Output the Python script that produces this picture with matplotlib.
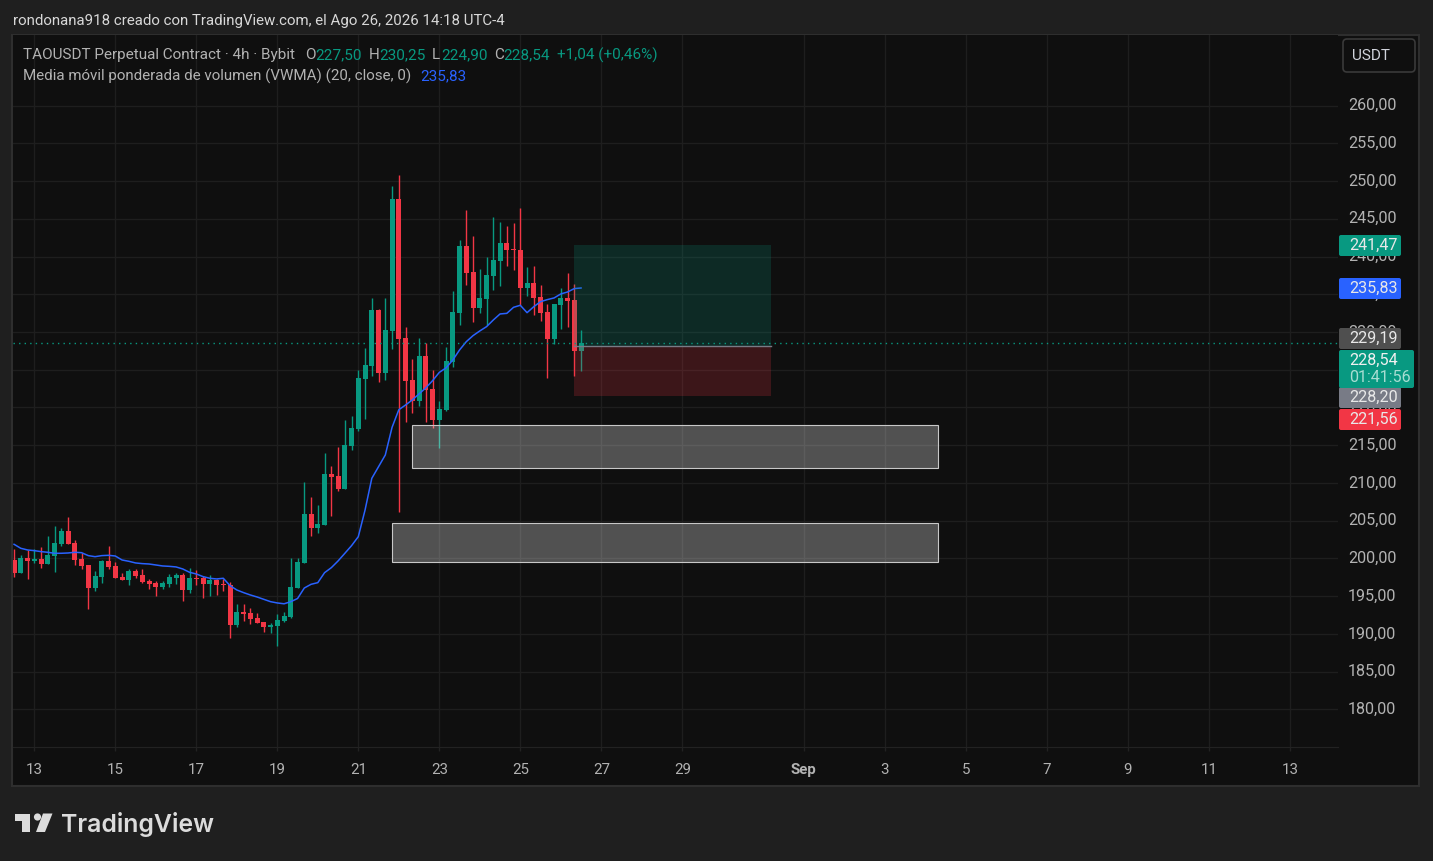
import matplotlib
matplotlib.use('Agg')
import numpy as np
from matplotlib import pyplot as plt
from matplotlib.patches import Rectangle, FancyBboxPatch, Polygon, Circle

# 4h candles
opens = [199.80, 198.08, 200.07, 199.67, 199.94, 199.27, 200.33, 201.92, 203.64, 202.05,
         199.94, 199.14, 196.09, 197.55, 199.67, 199.01, 197.55, 197.15, 198.35, 197.82,
         197.02, 196.76, 196.23, 196.62, 197.42, 197.82, 195.83, 197.42, 197.42, 196.62,
         197.15, 196.62, 196.49, 191.19, 192.92, 192.78, 192.12, 191.59, 190.93, 191.06,
         191.72, 192.25, 196.09, 199.40, 205.89, 204.04, 204.44, 211.19, 210.93, 209.20,
         214.90, 217.15, 223.77, 225.50, 232.92, 224.57, 230.14, 247.62, 229.21, 223.65,
         220.86, 226.82, 222.45, 218.35, 219.67, 226.03, 232.52, 241.39, 237.95, 233.18,
         234.37, 237.42, 239.41, 241.79, 240.99, 240.86, 235.83, 236.49, 234.64, 232.65,
         229.08, 233.58, 234.51, 234.24, 227.50]
highs = [201.26, 200.47, 201.13, 201.26, 201.52, 202.98, 204.31, 204.04, 205.50, 202.45,
         200.69, 199.14, 198.35, 199.80, 201.66, 199.54, 198.08, 198.61, 198.61, 198.61,
         197.29, 197.02, 197.02, 197.95, 198.08, 198.08, 198.74, 198.48, 197.68, 197.82,
         197.29, 197.29, 196.89, 193.97, 193.97, 193.45, 192.78, 191.59, 191.46, 192.65,
         192.92, 200.07, 200.07, 210.13, 208.15, 207.09, 213.97, 212.25, 214.77, 218.34,
         218.87, 224.97, 227.88, 234.51, 233.05, 234.51, 249.34, 250.80, 230.66, 226.43,
         229.21, 228.55, 224.97, 220.86, 228.02, 235.43, 242.19, 246.16, 242.72, 238.35,
         239.94, 245.23, 244.57, 244.04, 244.44, 246.43, 238.61, 238.75, 236.23, 233.71,
         233.71, 235.83, 237.82, 236.36, 230.25]
lows = [197.55, 198.08, 197.29, 199.41, 198.74, 199.27, 198.21, 201.66, 201.92, 199.14,
        198.61, 193.31, 195.70, 196.76, 198.61, 197.42, 197.15, 196.49, 197.42, 196.76,
        195.96, 195.03, 195.96, 196.23, 196.62, 194.37, 195.43, 196.49, 194.77, 195.03,
        195.17, 195.70, 189.47, 190.93, 191.72, 191.33, 191.46, 190.27, 190.13, 188.41,
        191.59, 192.12, 196.09, 199.40, 202.98, 203.38, 204.44, 205.63, 208.94, 209.20,
        214.37, 216.89, 218.48, 224.17, 223.38, 223.65, 227.75, 206.16, 218.08, 219.28,
        220.20, 218.08, 217.29, 214.68, 219.54, 225.37, 230.93, 236.23, 231.33, 232.52,
        230.93, 235.57, 236.10, 238.75, 238.22, 233.58, 234.77, 232.25, 231.46, 223.91,
        228.41, 230.40, 230.67, 224.17, 224.90]
closes = [198.08, 200.07, 199.67, 199.94, 199.27, 200.47, 202.05, 203.64, 201.92, 199.80,
          199.01, 196.09, 197.68, 199.67, 198.88, 197.42, 197.15, 198.35, 197.68, 196.89,
          196.62, 196.23, 196.76, 197.55, 197.82, 195.83, 197.42, 197.29, 196.62, 197.15,
          196.49, 196.49, 191.19, 192.92, 192.65, 191.99, 191.46, 190.93, 191.19, 191.86,
          192.39, 196.22, 199.54, 205.89, 204.04, 204.57, 211.19, 210.79, 209.20, 215.03,
          217.28, 223.91, 225.63, 232.92, 224.57, 230.27, 247.62, 229.08, 223.51, 220.86,
          226.82, 222.32, 218.35, 219.80, 226.16, 232.65, 241.39, 237.82, 233.18, 234.51,
          237.55, 239.54, 241.79, 240.86, 240.86, 235.83, 236.49, 234.51, 232.52, 229.08,
          233.71, 234.51, 234.11, 227.49, 228.54]
vwma = [201.88, 201.35, 201.13, 201.04, 200.91, 200.82, 200.69, 200.69, 200.73, 200.82,
        200.77, 200.38, 200.24, 200.38, 200.42, 200.33, 199.80, 199.63, 199.41, 199.32,
        199.27, 199.14, 199.01, 198.96, 198.88, 198.61, 198.17, 197.95, 197.60, 197.38,
        197.29, 197.38, 196.40, 195.83, 195.48, 195.17, 194.90, 194.59, 194.28, 194.11,
        194.00, 194.28, 194.70, 196.09, 196.58, 196.80, 198.12, 198.78, 199.67, 200.68,
        201.70, 202.89, 206.42, 210.62, 212.16, 213.71, 217.37, 219.70, 220.33, 221.00,
        221.80, 222.60, 223.55, 224.65, 225.25, 226.29, 227.62, 228.72, 229.52, 230.14,
        230.71, 231.59, 232.39, 232.47, 233.27, 233.54, 232.56, 233.36, 234.02, 234.29,
        234.51, 235.04, 235.30, 235.75, 235.83]

price_ticks = list(range(180, 265, 5))
date_pos = [3, 15, 27, 39, 51, 63, 75, 87, 99, 117, 129, 141, 153, 165, 177, 189]
date_labels = ['13', '15', '17', '19', '21', '23', '25', '27', '29', 'Sep', '3', '5', '7', '9', '11', '13']

# long position tool and the two grey zones (start, end, top, bottom)
target_zone = [83, 112.15, 241.47, 228.20]
stop_zone = [83, 112.15, 228.20, 221.56]
grey_zones = [[59, 136.95, 217.62, 211.99], [56, 136.95, 204.64, 199.54]]
last_price = 228.54

side_labels = [('241,47', 245.5, '#089981'), ('235,83', 288.5, '#2962ff'),
               ('229,19', 338.5, '#4f4f4f'), ('228,20', 397.5, '#787b86'),
               ('221,56', 419.5, '#f23645')]

GREEN = '#089981'
RED = '#f23645'
TEXT = '#b2b2b2'
FONT = 'Roboto'
W, H = 1433, 861

plt.rcParams['font.family'] = FONT
fig = plt.figure(figsize=(W / 100, H / 100), dpi=100, facecolor='#1f1f1f')


def px_axes(zorder):
    a = fig.add_axes([0, 0, 1, 1], zorder=zorder)
    a.set_xlim(0, W)
    a.set_ylim(H, 0)
    a.axis('off')
    a.patch.set_alpha(0)
    return a


bg = px_axes(0)
bg.add_patch(Rectangle((12.5, 34.5), 1407, 751, fc='#0f0f0f', ec='#2e2e2e', lw=1.5))

# price chart
ax = fig.add_axes([13 / W, 1 - 747 / H, (1338 - 13) / W, (747 - 35) / H], zorder=1)
ax.set_facecolor('#0f0f0f')
ax.set_xlim(-0.156, 196.14)
ax.set_ylim(175.03, 269.34)
for s in ax.spines.values():
    s.set_visible(False)
ax.spines['bottom'].set_visible(True)
ax.spines['bottom'].set_color('#222222')

ax.set_yticks(price_ticks)
ax.set_yticklabels([f'{v},00' for v in price_ticks])
ax.yaxis.tick_right()
ax.tick_params(axis='y', length=0, pad=7.2, labelsize=11.6, labelcolor=TEXT)
for lab in ax.get_yticklabels():
    lab.set_verticalalignment('center')
ax.set_xticks(date_pos)
ax.set_xticklabels(date_labels)
ax.tick_params(axis='x', length=3, width=1, color='#222222', pad=8.6, labelsize=10.8, labelcolor=TEXT)
for lab in ax.get_xticklabels():
    if lab.get_text() == 'Sep':
        lab.set_fontweight('bold')
ax.grid(True, color='#1e1e1e', lw=1)
ax.set_axisbelow(True)

x = np.arange(len(opens))
opens_a, closes_a = np.array(opens), np.array(closes)
colors = [GREEN if c >= o else RED for o, c in zip(opens, closes)]
ax.vlines(x, lows, highs, colors=colors, lw=1, zorder=2)
ax.bar(x, np.maximum(np.abs(closes_a - opens_a), 0.12), bottom=np.minimum(opens_a, closes_a),
       width=0.74, color=colors, lw=0, zorder=3)
ax.plot(x, vwma, color='#2962ff', lw=1.1, zorder=4)
ax.axhline(last_price, color=GREEN, lw=1, ls=(0, (1, 3)), zorder=4)

ax.add_patch(Rectangle((target_zone[0], target_zone[3]), target_zone[1] - target_zone[0],
                       target_zone[2] - target_zone[3], fc=GREEN, alpha=0.2, lw=0, zorder=5))
ax.add_patch(Rectangle((stop_zone[0], stop_zone[3]), stop_zone[1] - stop_zone[0],
                       stop_zone[2] - stop_zone[3], fc=RED, alpha=0.2, lw=0, zorder=5))
ax.plot(target_zone[:2], [target_zone[3]] * 2, color='#787b86', lw=1, zorder=5)
for x0, x1, top, bottom in grey_zones:
    ax.add_patch(Rectangle((x0, bottom), x1 - x0, top - bottom, fc=(1, 1, 1, 0.28),
                           ec='#c8c8c8', lw=0.8, zorder=5))

# everything round the chart, placed in pixels
top = px_axes(2)


def label(px, py, s, color=TEXT, size=11, **kw):
    top.text(px, py, s, color=color, fontsize=size, va='center', **kw)


label(13, 21, 'rondonana918 creado con TradingView.com, el Ago 26, 2026 14:18 UTC-4', color='#d8d8d8', size=10.8)
label(23, 55, 'TAOUSDT Perpetual Contract · 4h · Bybit')
for px, s, c in [(305, 'O', TEXT), (315, '227,50', GREEN), (369, 'H', TEXT), (379, '230,25', GREEN),
                 (432, 'L', TEXT), (441, '224,90', GREEN), (494, 'C', TEXT), (503, '228,54', GREEN),
                 (557, '+1,04 (+0,46%)', GREEN)]:
    label(px, 55, s, color=c)
label(23, 76, 'Media móvil ponderada de volumen (VWMA) (20, close, 0)', size=10.9)
label(420, 76, '235,83', color='#2962ff')

top.add_patch(FancyBboxPatch((1346, 42), 66, 27, boxstyle='round,pad=3,rounding_size=4',
                             fc='#0f0f0f', ec='#3a3a3a', lw=1.2))
label(1371.5, 55.5, 'USDT', color='#d1d4dc', ha='center')

for s, py, c in side_labels:
    top.add_patch(FancyBboxPatch((1340, py - 9.5), 60, 19, boxstyle='round,pad=1,rounding_size=2',
                                 fc=c, ec='none'))
    label(1349, py, s, color='#e8e8e8', size=11.6)
top.add_patch(FancyBboxPatch((1340, 351), 73, 36, boxstyle='round,pad=1,rounding_size=2', fc=GREEN, ec='none'))
label(1349.5, 360, '228,54', color='#f0f0f0', size=11.6)
label(1349.5, 377, '01:41:56', color='#a8ddd2', size=11.6)

# logo
LOGO = '#dcdcdc'
top.add_patch(Polygon([(15, 813.5), (30, 813.5), (30, 832), (22.5, 832), (22.5, 821), (15, 821)], fc=LOGO, lw=0))
top.add_patch(Circle((37.5, 817), 3.6, fc=LOGO, lw=0))
top.add_patch(Polygon([(43, 813.5), (52.5, 813.5), (45, 832), (36, 832)], fc=LOGO, lw=0))
label(61, 824.5, 'TradingView', color=LOGO, size=17.9, family='Inter', fontweight='semibold')

fig.savefig('out.png', dpi=100, facecolor=fig.get_facecolor())
